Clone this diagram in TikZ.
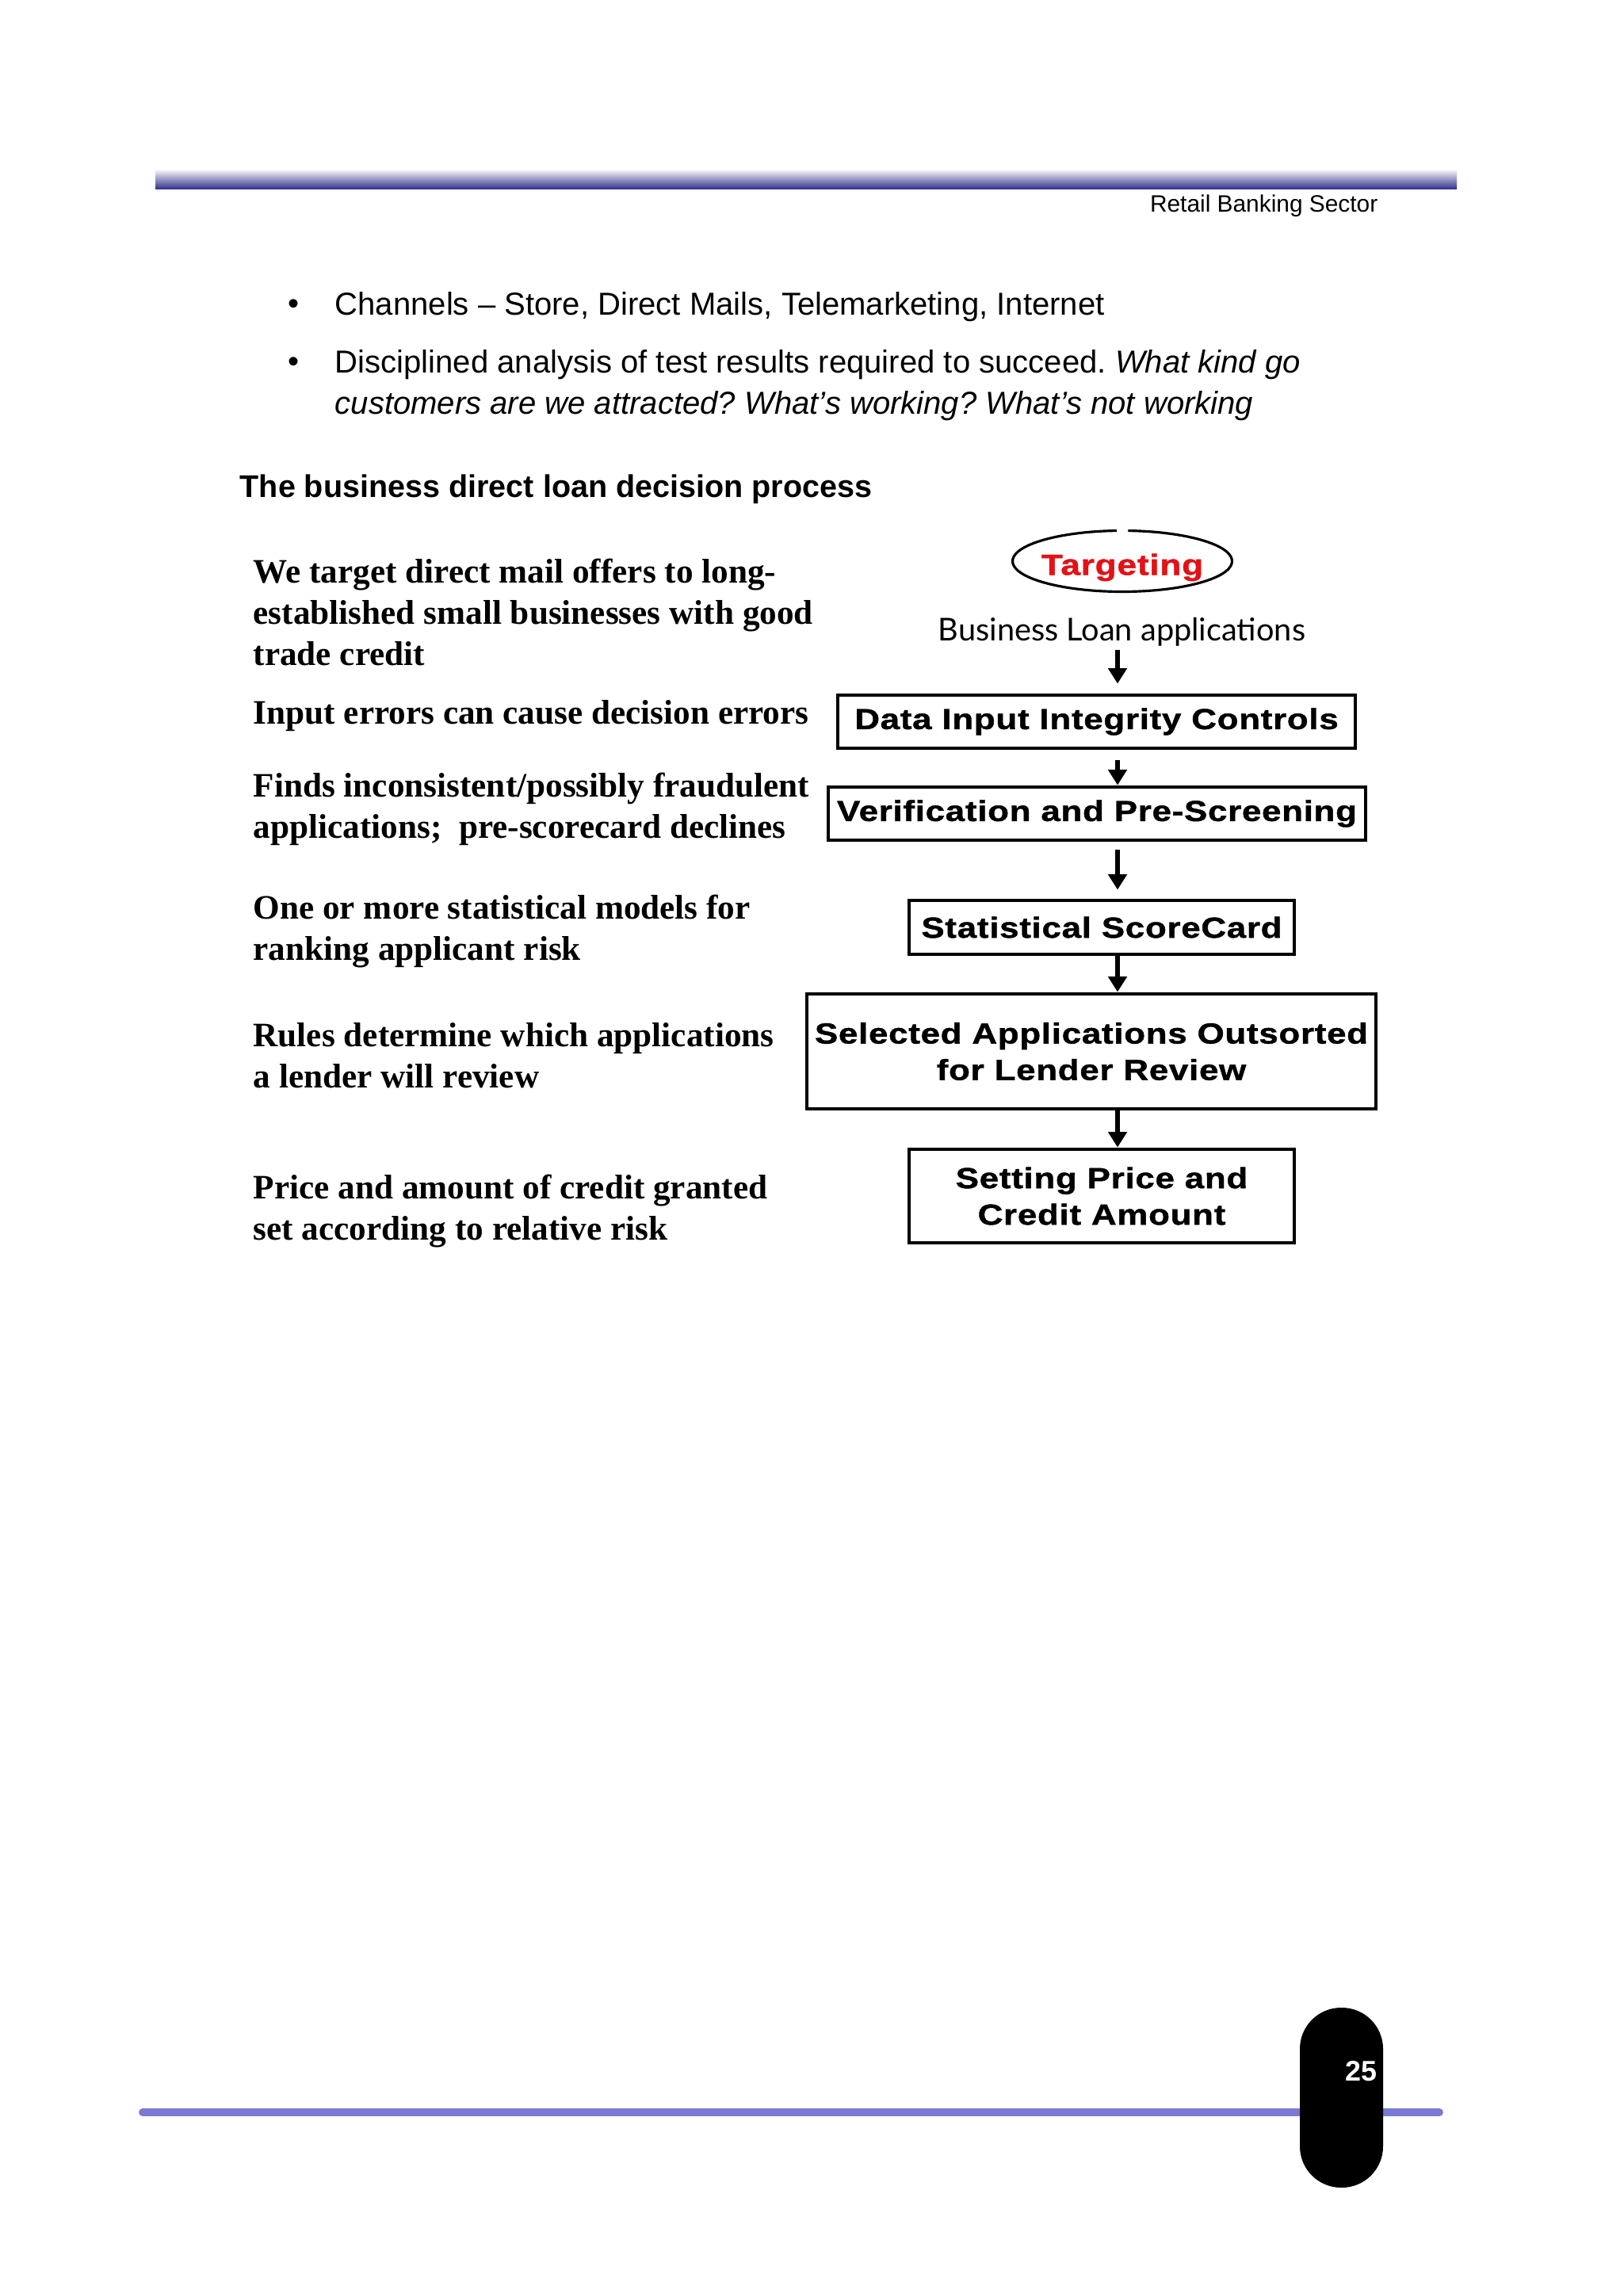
\documentclass[tikz,border=0pt]{standalone}
\usepackage{fontspec}
\setmainfont{Liberation Serif}
\setsansfont{Liberation Sans}
\newfontfamily\handfont{Lato}
\newfontfamily\boxfont[FakeStretch=1.2, FakeBold=1.2, LetterSpace=2]{Liberation Sans}
\usepackage{tikz}
\usetikzlibrary{arrows.meta, positioning, shapes.geometric}
\definecolor{barblue}{RGB}{46,46,138}
\definecolor{footblue}{RGB}{122,122,212}
\definecolor{tgtred}{RGB}{226,18,22}
\frenchspacing

\tikzset{
  stepbox/.style={draw=black, line width=1.4pt, inner sep=0pt, align=center,
    font=\boxfont\bfseries\fontsize{10.4}{13.1}\selectfont},
  note/.style={anchor=west, inner sep=0pt, align=left,
    font=\bfseries\fontsize{12.3}{14.8}\selectfont},
  body/.style={anchor=west, inner sep=0pt, align=left,
    font=\sffamily\fontsize{11.4}{14.8}\selectfont},
  flow/.style={->, line width=1.6pt},
}

\begin{document}
\begin{tikzpicture}[>={Triangle[width=6.5pt,length=5.5pt]}]
    \useasboundingbox (0,0) rectangle (20.48,-28.93);

    % header
    \shade[top color=white, middle color=barblue!30, bottom color=barblue] (1.96,-2.13) rectangle (18.38,-2.39);
    \node[anchor=east, inner sep=0pt, font=\sffamily\fontsize{8.5}{10}\selectfont] (hdr) at (17.39,-2.60) {Retail Banking Sector};

    % bullets
    \node[inner sep=0pt, font=\sffamily\fontsize{11.4}{14.8}\selectfont] (dot1) at (3.71,-3.875) {\textbullet};
    \node[body] (chan) at (4.22,-3.875) {Channels – Store, Direct Mails, Telemarketing, Internet};
    \node[inner sep=0pt, font=\sffamily\fontsize{11.4}{14.8}\selectfont] (dot2) at (3.71,-4.605) {\textbullet};
    \node[body] (disc) at (4.22,-4.865) {Disciplined analysis of test results required to succeed. \textit{What kind go}\\
      \textit{customers are we attracted? What’s working? What’s not working}};

    \node[anchor=west, inner sep=0pt, font=\sffamily\bfseries\fontsize{11.25}{13}\selectfont] (ttl) at (3.02,-6.175) {The business direct loan decision process};

    % notes on the left
    \node[note] (n1) at (3.19,-7.725) {We target direct mail offers to long-\\established small businesses with good\\trade credit};
    \node[note] (n2) at (3.19,-9.035) {Input errors can cause decision errors};
    \node[note] (n3) at (3.19,-10.205) {Finds inconsistent/possibly fraudulent\\applications;~ pre-scorecard declines};
    \node[note] (n4) at (3.19,-11.755) {One or more statistical models for\\ranking applicant risk};
    \node[note] (n5) at (3.19,-13.32) {Rules determine which applications\\a lender will review};
    \node[note] (n6) at (3.19,-15.28) {Price and amount of credit granted\\set according to relative risk};

    % flow on the right
    \node[ellipse, minimum width=2.77cm, minimum height=0.77cm, inner sep=0pt, text=tgtred, text depth=0pt,
      font=\boxfont\bfseries\fontsize{10.5}{13}\selectfont] (tgt) at (14.16,-7.12) {Targeting};
    \draw[line width=0.9pt] ([yshift=0.04cm]tgt.center) ++(93:1.385 and 0.385) arc[start angle=93, end angle=447, x radius=1.385, y radius=0.385];
    \node[inner sep=1pt, font=\handfont\fontsize{11.3}{13}\selectfont] (bla) at (14.155,-7.975) {Business Loan applications};

    \coordinate (axis) at (14.10,0);
    \node[stepbox, minimum width=6.53cm, minimum height=0.67cm] (dic) at (13.835,-9.105) {Data Input Integrity Controls};
    \node[stepbox, minimum width=6.78cm, minimum height=0.67cm] (vps) at (13.84,-10.265) {Verification and Pre-Screening};
    \node[stepbox, minimum width=4.86cm, minimum height=0.68cm] (ssc) at (13.90,-11.70) {Statistical ScoreCard};
    \node[stepbox, minimum width=7.18cm, minimum height=1.45cm] (sel) at (13.77,-13.265) {Selected Applications Outsorted\\for Lender Review};
    \node[stepbox, minimum width=4.86cm, minimum height=1.18cm] (spc) at (13.90,-15.09) {Setting Price and\\Credit Amount};

    \foreach \a/\b/\s/\e in {bla/dic/0/0.12, dic/vps/0.13/0, vps/ssc/0.10/0.11, ssc/sel/0/0, sel/spc/0/0} {
      \draw[flow, shorten <=\s cm, shorten >=\e cm] (\a.south -| axis) -- (\b.north -| axis);
    }

    % footer
    \coordinate (fl) at (1.80,-26.65);
    \coordinate (fr) at (18.16,-26.65);
    \draw[footblue, line width=2.8pt, line cap=round] (fl) -- (fr);
    \fill[black, rounded corners=0.52cm] (16.40,-25.33) rectangle (17.45,-27.60);
    \node[text=white, inner sep=0pt, font=\sffamily\bfseries\fontsize{10.2}{12}\selectfont] (pg) at (17.17,-26.13) {25};
\end{tikzpicture}
\end{document}
